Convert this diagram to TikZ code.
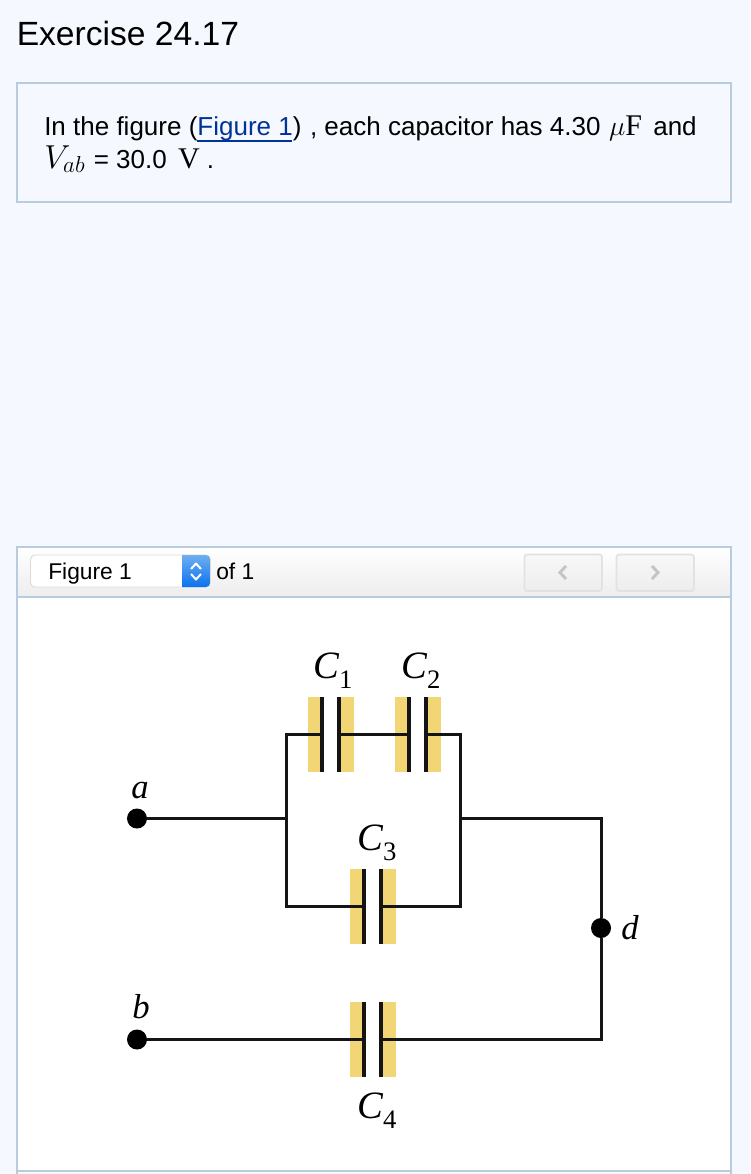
\documentclass[tikz,border=0pt]{standalone}
\usepackage{fontspec}
\setmainfont{Liberation Sans}
\newfontfamily\labfont{Liberation Serif}
\usetikzlibrary{calc}
\definecolor{pagebg}{HTML}{F5F9FF}
\definecolor{panelline}{HTML}{B9CCDE}
\definecolor{capyellow}{HTML}{F2D675}
\definecolor{linkblue}{HTML}{003399}
\definecolor{wirecol}{HTML}{141414}
\definecolor{btnline}{HTML}{E2E2E2}
\definecolor{chev}{HTML}{C4C4C4}
\definecolor{selblueA}{HTML}{6FAEF0}
\definecolor{selblueB}{HTML}{0A72EE}
\newcommand{\mathsz}{\fontsize{22.5}{22.5}\selectfont}
\newcommand{\varsz}{\fontsize{24}{24}\selectfont}
\tikzset{
  wire/.style={draw=wirecol,line width=2.25pt,line join=miter},
  plate/.style={draw=wirecol,line width=2.8pt},
  panel/.style={draw=panelline,line width=1.5pt},
  terminal/.style={circle,fill=black,inner sep=0pt,minimum size=15pt},
  lab/.style={inner sep=0pt,anchor=base west,font=\labfont\itshape\fontsize{29}{29}\selectfont},
  smalllab/.style={inner sep=0pt,anchor=base west,font=\labfont\itshape\fontsize{26}{26}\selectfont},
  btn/.style={draw=btnline,line width=1.3pt,rounded corners=2pt,top color=black!3,bottom color=black!7},
  chevline/.style={draw=chev,line width=2.2pt},
  bodytext/.style={anchor=base west,inner sep=0pt,font=\fontsize{19.5}{19.5}\selectfont}
}
\newcommand{\capsub}[1]{\raisebox{-7.5pt}{\upshape\fontsize{20}{20}\selectfont #1}}
\newcommand{\capacitor}[3]{% name, x, y
  \fill[capyellow] (#2-23,#3-37.5) rectangle (#2-8,#3+37.5);
  \fill[capyellow] (#2+8,#3-37.5) rectangle (#2+23,#3+37.5);
  \coordinate (#1l) at (#2-8.5,#3);
  \coordinate (#1r) at (#2+8.5,#3);
  \draw[plate] (#2-8.5,#3-37.5) -- (#2-8.5,#3+37.5);
  \draw[plate] (#2+8.5,#3-37.5) -- (#2+8.5,#3+37.5);
}
\begin{document}
\begin{tikzpicture}[x=0.75pt,y=-0.75pt]
\useasboundingbox (0,0) rectangle (750,1174);
\fill[pagebg] (0,0) rectangle (750,1174);

\node[anchor=base west,inner sep=0pt,font=\fontsize{25.2}{25.2}\selectfont] (title) at (16.5,45) {Exercise 24.17};

% problem box
\draw[panel] (17,83) rectangle (731,202);
\node[bodytext] (line1) at (44,135)
  {In the figure (\textcolor{linkblue}{Figure 1})\hspace{1pt} , each capacitor has 4.30\hspace{1pt} {\mathsz$\mu$\labfont F}\hspace{3pt} and};
\draw[linkblue,line width=1.5pt] (197,140.5) -- (292,140.5);
\node[bodytext] (line2) at (44,168)
  {{\varsz$V_{ab}$}\hspace{1pt} = 30.0\hspace{3pt} {\mathsz\labfont V} .};

% figure panel
\fill[white] (17,598) rectangle (731,1171);
\shade[top color=white,bottom color=black!7] (18,548) rectangle (730,596);
\draw[panel] (17,1174) -- (17,547) -- (731,547) -- (731,1174);
\draw[panel] (17,597) -- (731,597);
\draw[panel] (17,1171) -- (731,1171);

% selector
\node[draw=black!14,line width=0.7pt,fill=white,rounded corners=3.5pt,minimum width=135pt,minimum height=24pt,inner sep=0pt,anchor=west] (sel) at (30,571) {};
\begin{scope}
\clip[rounded corners=3pt] (170,555) rectangle (210,587);
\shade[top color=selblueA,bottom color=selblueB] (182,555) rectangle (210,587);
\end{scope}
\draw[white,line width=1.5pt,line join=round] (191,569) -- (196,563.5) -- (201,569);
\draw[white,line width=1.5pt,line join=round] (191,574) -- (196,579.5) -- (201,574);
\node[anchor=base west,inner sep=0pt,font=\fontsize{17.1}{17.1}\selectfont] (figsel) at (48,579) {Figure 1};
\node[anchor=base west,inner sep=0pt,font=\fontsize{17.1}{17.1}\selectfont] (of) at (216,579) {of 1};

% nav buttons
\path[btn] (524.5,554.5) rectangle (602,591);
\path[btn] (616.5,554.5) rectangle (694,591);
\draw[chevline] (566,566) -- (560,572.5) -- (566,579);
\draw[chevline] (652,566) -- (658,572.5) -- (652,579);

% capacitors
\capacitor{C1}{330.5}{734.5}
\capacitor{C2}{417.5}{734.5}
\capacitor{C3}{372.5}{906}
\capacitor{C4}{372.5}{1039.5}

% terminals and corners
\node[terminal] (a) at (137,818.5) {};
\node[terminal] (b) at (137,1039.5) {};
\node[terminal] (d) at (601,928) {};
\coordinate (jl) at (286,818.5);
\coordinate (jr) at (460,818.5);
\coordinate (tl) at (286,734.5);
\coordinate (tr) at (460,734.5);
\coordinate (bl) at (286,906);
\coordinate (br) at (460,906);
\coordinate (rt) at (601,818.5);
\coordinate (rb) at (601,1039.5);

\draw[wire] (a) -- (jl);
\draw[wire] (C1l) -- (tl) -- (bl) -- (C3l);
\draw[wire] (C1r) -- (C2l);
\draw[wire] (C2r) -- (tr) -- (br) -- (C3r);
\draw[wire] (jr) -- (rt) -- (d);
\draw[wire] (d) -- (rb) -- (C4r);
\draw[wire] (b) -- (C4l);

% labels
\node[lab] (lC1) at (313,678) {C\capsub{1}};
\node[lab] (lC2) at (401,678) {C\capsub{2}};
\node[lab] (lC3) at (357,850) {C\capsub{3}};
\node[lab] (lC4) at (357,1118) {C\capsub{4}};
\node[smalllab] (la) at (131,798) {a};
\node[smalllab] (lb) at (132,1018) {b};
\node[smalllab] (ld) at (621,939) {d};
\end{tikzpicture}
\end{document}
